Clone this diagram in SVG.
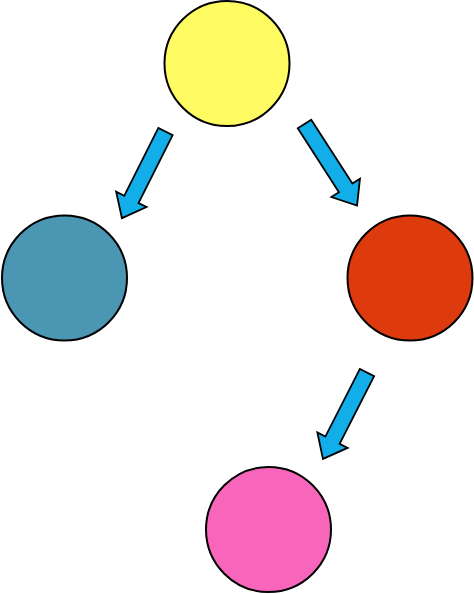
<svg xmlns="http://www.w3.org/2000/svg" width="474" height="594" viewBox="0 0 474 594">
<style>
.node{stroke:#000;stroke-width:2}
.arrow{fill:#12AEEA;stroke:#000;stroke-width:1.8;stroke-linejoin:miter}
</style>
<defs>
<polygon id="arr" points="0,-8 76,-8 76,-17 97,0 76,17 76,8 0,8"/>
</defs>
<rect width="474" height="594" fill="#fff"/>
<g id="connectors">
<use href="#arr" class="arrow" transform="translate(165.5,131.5) rotate(116.7)"/>
<use href="#arr" class="arrow" transform="translate(304.5,124) rotate(57.2)"/>
<use href="#arr" class="arrow" transform="translate(367,372.5) rotate(117)"/>
</g>
<g id="yellow"><circle class="node" cx="227" cy="63.5" r="62.5" fill="#FFFB62"/></g>
<g id="blue"><circle class="node" cx="64.5" cy="278" r="62.5" fill="#4A96B3"/></g>
<g id="red"><circle class="node" cx="410" cy="278" r="62.5" fill="#DD3A0E"/></g>
<g id="pink"><circle class="node" cx="268.5" cy="529.5" r="62.5" fill="#F766BA"/></g>
</svg>
